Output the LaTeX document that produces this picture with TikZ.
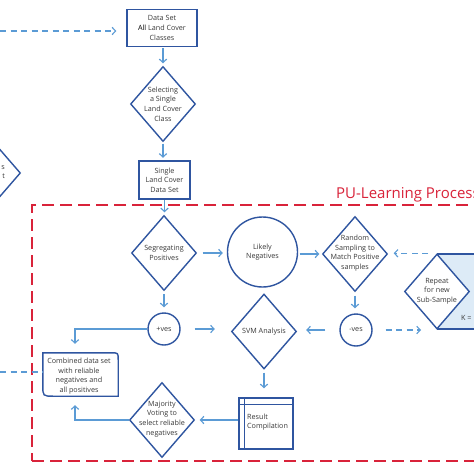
\documentclass[tikz,border=0pt]{standalone}
\usepackage{fontspec}
\setmainfont{Open Sans}
\usetikzlibrary{shapes.geometric,arrows.meta}
\definecolor{nodeblue}{HTML}{2F55A0}
\definecolor{arrblue}{HTML}{5B9BD5}
\definecolor{pured}{HTML}{D9233A}
\definecolor{fillblue}{HTML}{DDEBF7}
\definecolor{txtgray}{HTML}{3A3A3A}
\begin{document}
\begin{tikzpicture}[x=1pt,y=-1pt,
  nline/.style={draw=nodeblue, line width=1.4pt},
  rectbox/.style={nline, fill=white, rectangle, inner sep=0pt, align=center, font=\fontsize{7.2}{9.7}\selectfont, text=txtgray},
  dia/.style={nline, fill=white, diamond, inner sep=0pt, minimum width=65pt, minimum height=75pt},
  circ/.style={nline, fill=white, circle, inner sep=0pt, align=center, font=\fontsize{7.2}{9.7}\selectfont, text=txtgray},
  txt/.style={align=center, font=\fontsize{7.2}{9.7}\selectfont, text=txtgray, inner sep=0pt},
  arr/.style={draw=arrblue, line width=1.1pt, -{Straight Barb[length=3.5pt,width=7.5pt]}},
  darr/.style={arr, dash pattern=on 6pt off 4.5pt},
  dline/.style={draw=arrblue, line width=1.1pt, dash pattern=on 6pt off 4.5pt},
  puframe/.style={draw=pured, line width=2.2pt, dash pattern=on 12pt off 6pt, rectangle, inner sep=0pt}
]
\useasboundingbox (0,0) rectangle (474,474);
\clip (0,0) rectangle (474,474);
\fill[white] (0,0) rectangle (474,474);

% PU learning frame
\node[puframe, minimum width=459pt, minimum height=256pt, anchor=north west] (P) at (31,204) {};
\node[anchor=base west, text=pured, font=\fontsize{15}{15}\selectfont, inner sep=0pt] (Pl) at (336,198) {PU-Learning Process};

% top part
\node[rectbox, minimum width=70pt, minimum height=37pt] (A) at (162,28) {Data Set\\{\color{black}All} Land Cover\\Classes};
\node[dia] (B) at (163,104) {};
\node[txt] (Bt) at (163,104) {Selecting\\a Single\\Land Cover\\Class};
\node[rectbox, minimum width=51pt, minimum height=38pt] (C) at (164.5,180) {Single\\Land Cover\\Data Set};

% partial diamond at left edge
\node[dia] (N) at (-12,173) {};
\node[txt, align=right, anchor=east] (Nt) at (5,172) {s\\t};

% PU process nodes
\node[dia] (D) at (164,253) {};
\node[txt] (Dt) at (164,253) {Segregating\\Positives};
\node[circ, minimum size=70pt] (E) at (262.5,252) {Likely\\Negatives};
\node[dia] (F) at (355,254) {};
\node[txt] (Ft) at (355,253) {Random\\Sampling to\\Match Positive\\samples};

\node[nline, fill=fillblue, rectangle, inner sep=0pt, minimum width=60pt, minimum height=75pt, anchor=west] (Gbg) at (437,291.5) {};
\node[dia] (G) at (437,291.5) {};
\node[txt] (Gt) at (437,291) {Repeat\\for new\\Sub-Sample};
\node[txt, anchor=west] (Kt) at (461,318) {K =};

\node[circ, minimum size=32pt] (M) at (164,329) {+ves};
\node[dia] (I) at (264,331.5) {};
\node[txt] (It) at (264,331.5) {SVM Analysis};
\node[circ, minimum size=32pt] (H) at (356,330) {-ves};

\node[rectbox, minimum width=54pt, minimum height=51pt] (J) at (266,423.5) {};
\draw[nodeblue, line width=1.2pt] ([xshift=6pt]J.north west) -- ([xshift=6pt]J.south west);
\draw[nodeblue, line width=1.2pt] ([yshift=-7pt]J.north west) -- ([yshift=-7pt]J.north east);
\node[txt, align=left, anchor=west] (Jt) at (247,422) {Result\\Compilation};

\node[dia] (K) at (162,420) {};
\node[txt] (Kv) at (162,419) {Majority\\Voting to\\select reliable\\negatives};

\node[inner sep=0pt, minimum width=75pt, minimum height=43pt] (L) at (80.5,374.5) {};
\draw[nline, fill=white] (L.north west) -- ([xshift=-7pt]L.north east) .. controls (L.north east) .. ([yshift=-7pt]L.north east) -- (L.south east) -- ([xshift=11pt]L.south west) .. controls (L.south west) .. ([yshift=11pt]L.south west) -- cycle;
\node[txt] (Lt) at (79,376) {Combined data set\\with reliable\\negatives and\\all positives};

% connectors
\coordinate (s1) at (0,31);
\draw[darr, shorten >=10pt] (s1) -- (s1 -| A.west);
\draw[arr, shorten <=1pt, shorten >=2.5pt] (A.south -| B.north) -- (B.north);
\draw[arr, shorten <=1.5pt, shorten >=2.5pt] (B.south) -- (B.south |- C.north);
\draw[arr, shorten <=0.5pt, shorten >=2.5pt] (C.south) -- (C.south |- D.north);
\draw[arr, shorten <=5.5pt, shorten >=4pt] (D.east) -- (D.east -| E.west);
\draw[arr, shorten <=1.5pt, shorten >=2.5pt] (E.east |- F.west) -- (F.west);
\draw[darr, shorten <=9pt, shorten >=5.5pt] (G.north) -- (G.north -| F.east);
\draw[arr, shorten <=3.5pt, shorten >=5pt] (F.south) -- (F.south |- H.north);
\draw[darr, shorten <=13pt, shorten >=16pt] (H.east) -- (H.east -| G.south);
\draw[arr, shorten <=14pt, shorten >=9pt] (H.west) -- (H.west -| I.east);
\draw[arr, shorten <=3pt, shorten >=5pt] (D.south) -- (D.south |- M.north);
\draw[arr, shorten <=14pt, shorten >=16pt] (M.east) -- (M.east -| I.west);
\draw[arr, shorten <=3pt, shorten >=9pt] (I.south) -- (I.south |- J.north);
\draw[arr, shorten >=4.5pt] (J.west |- K.east) -- (K.east);
\draw[arr, shorten >=9pt] (K.west) -| ([xshift=-5.5pt]L.south);
\draw[arr, shorten >=9pt] (M.west) -| ([xshift=-5.5pt]L.north);
\coordinate (s2) at (0,372);
\draw[dline] (s2) -- (s2 -| L.west);
\end{tikzpicture}
\end{document}
